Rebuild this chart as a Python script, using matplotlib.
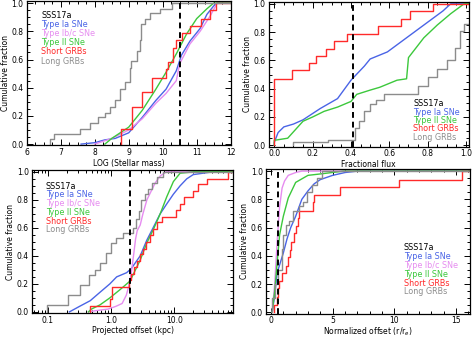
import matplotlib.pyplot as plt
from matplotlib.ticker import MultipleLocator, FixedLocator, LogLocator, NullFormatter

plt.rcParams['font.family'] = 'DejaVu Sans'

W, H = 474, 338

# colours for each class
c_ia = '#4a64e6'
c_ibc = '#e68cf0'
c_ii = '#3cc83c'
c_short = '#ff2a2a'
c_long = '#8c8c8c'

# --- host stellar mass (log M) ---
mass_ia_x = [7.6, 8.0, 8.3, 8.6, 9.0, 9.4, 9.8, 10.1, 10.4, 10.55, 10.8, 11.1, 11.3, 11.5, 11.6]
mass_ia_y = [0.0, 0.01, 0.03, 0.04, 0.08, 0.19, 0.31, 0.39, 0.52, 0.63, 0.73, 0.82, 0.92, 0.98, 1.0]
mass_ibc_x = [8.0, 8.5, 9.0, 9.4, 9.8, 10.1, 10.4, 10.5, 10.8, 11.1, 11.4, 11.6]
mass_ibc_y = [0.0, 0.04, 0.10, 0.18, 0.29, 0.36, 0.45, 0.57, 0.71, 0.80, 0.91, 1.0]
mass_ii_x = [8.3, 8.5, 9.0, 9.4, 9.8, 10.1, 10.4, 10.7, 11.0, 11.3, 11.5]
mass_ii_y = [0.0, 0.04, 0.12, 0.24, 0.39, 0.51, 0.64, 0.78, 0.89, 0.96, 1.0]
mass_short_x = [8.78, 9.11, 9.40, 9.70, 10.09, 10.15, 10.30, 10.40, 10.58, 10.79, 11.14, 11.38, 11.58]
mass_short_y = [0.11, 0.26, 0.37, 0.47, 0.53, 0.58, 0.68, 0.74, 0.79, 0.84, 0.89, 0.95, 1.0]
mass_long_x = [6.69, 6.81, 7.57, 7.86, 8.11, 8.30, 8.45, 8.59, 8.74, 8.88, 9.03, 9.08, 9.23,
               9.32, 9.37, 9.47, 9.62, 9.91, 10.26]
mass_long_y = [0.037, 0.074, 0.11, 0.15, 0.19, 0.22, 0.26, 0.31, 0.39, 0.44, 0.54, 0.59, 0.66,
               0.74, 0.85, 0.89, 0.93, 0.96, 1.0]
mass_sss17a = 10.5

# --- fractional flux ---
flux_ia_x = [0.0, 0.0, 0.02, 0.05, 0.1, 0.15, 0.24, 0.33, 0.40, 0.47, 0.50, 0.59, 0.67, 0.73,
             0.81, 0.88, 0.92]
flux_ia_y = [0.0, 0.02, 0.09, 0.13, 0.15, 0.18, 0.26, 0.33, 0.46, 0.56, 0.61, 0.66, 0.74, 0.80,
             0.88, 0.95, 1.0]
flux_ii_x = [0.0, 0.0, 0.07, 0.11, 0.15, 0.2, 0.26, 0.33, 0.40, 0.43, 0.50, 0.55, 0.64, 0.69,
             0.70, 0.78, 0.85, 0.92, 0.99]
flux_ii_y = [0.0, 0.035, 0.05, 0.11, 0.17, 0.20, 0.24, 0.27, 0.31, 0.36, 0.39, 0.41, 0.46, 0.47,
             0.62, 0.76, 0.85, 0.93, 1.0]
flux_short_x = [0.0, 0.09, 0.18, 0.22, 0.27, 0.31, 0.38, 0.54, 0.66, 0.71, 0.83]
flux_short_y = [0.47, 0.53, 0.58, 0.63, 0.68, 0.74, 0.79, 0.84, 0.89, 0.95, 1.0]
flux_long_x = [0.10, 0.28, 0.42, 0.44, 0.47, 0.50, 0.53, 0.57, 0.75, 0.80, 0.85, 0.90, 0.94,
               0.97, 0.99]
flux_long_y = [0.02, 0.04, 0.12, 0.17, 0.24, 0.29, 0.32, 0.36, 0.42, 0.48, 0.54, 0.60, 0.69,
               0.81, 0.86]
flux_sss17a = 0.41

# --- projected offset (kpc) ---
off_ia_x = [0.22, 0.32, 0.47, 0.67, 0.96, 1.23, 1.77, 2.1, 2.9, 3.67, 4.4, 6.0, 7.6, 9.7, 12.4,
            15.8, 20.0, 41.0]
off_ia_y = [0.0, 0.04, 0.08, 0.14, 0.20, 0.25, 0.28, 0.31, 0.40, 0.51, 0.58, 0.70, 0.77, 0.84,
            0.90, 0.95, 0.98, 1.0]
off_ibc_x = [0.44, 0.6, 0.9, 1.2, 1.5, 1.75, 1.9, 2.1, 2.3, 2.45, 2.6, 2.9, 3.2, 3.7, 4.3, 5.0,
             6.0, 7.5]
off_ibc_y = [0.0, 0.01, 0.02, 0.04, 0.06, 0.12, 0.18, 0.28, 0.42, 0.52, 0.58, 0.62, 0.70, 0.80,
             0.86, 0.92, 0.97, 1.0]
off_ii_x = [0.44, 0.49, 0.67, 0.96, 1.4, 2.0, 2.9, 3.67, 4.7, 6.0, 7.6, 9.7, 12.4, 21.0]
off_ii_y = [0.0, 0.02, 0.05, 0.10, 0.16, 0.22, 0.37, 0.49, 0.59, 0.70, 0.82, 0.93, 0.99, 1.0]
off_short_x = [0.46, 0.97, 1.05, 1.9, 2.05, 2.3, 2.6, 2.9, 3.2, 3.6, 4.1, 4.6, 5.3, 6.3, 10.8,
               12.5, 14.5, 20.0, 24.0, 33.0, 72.0]
off_short_y = [0.045, 0.09, 0.18, 0.23, 0.27, 0.32, 0.36, 0.41, 0.45, 0.50, 0.55, 0.59, 0.64,
               0.68, 0.73, 0.77, 0.82, 0.86, 0.91, 0.95, 1.0]
off_long_x = [0.096, 0.21, 0.32, 0.45, 0.56, 0.67, 0.82, 1.0, 1.2, 1.55, 2.25, 2.5, 2.75, 3.0,
              3.4, 3.9, 4.5, 5.3, 6.7]
off_long_y = [0.05, 0.12, 0.19, 0.26, 0.30, 0.35, 0.42, 0.49, 0.53, 0.56, 0.60, 0.66, 0.72, 0.80,
              0.84, 0.88, 0.92, 0.96, 1.0]
off_sss17a = 2.0

# --- host-normalized offset (r/r_e) ---
noff_ia_x = [0.1, 0.3, 0.5, 1.0, 1.3, 1.6, 2.0, 2.5, 3.0, 3.5, 4.0, 5.0, 6.0, 7.0]
noff_ia_y = [0.0, 0.12, 0.28, 0.42, 0.52, 0.60, 0.68, 0.80, 0.86, 0.91, 0.94, 0.97, 0.99, 1.0]
noff_ibc_x = [0.1, 0.3, 0.5, 0.7, 0.9, 1.1, 1.4, 2.0, 2.5]
noff_ibc_y = [0.0, 0.2, 0.5, 0.75, 0.88, 0.93, 0.97, 0.99, 1.0]
noff_ii_x = [0.1, 0.3, 0.5, 0.7, 1.0, 1.4, 2.0, 2.6, 3.0, 4.0, 5.9]
noff_ii_y = [0.0, 0.15, 0.35, 0.55, 0.68, 0.81, 0.92, 0.95, 0.97, 0.98, 1.0]
noff_short_x = [0.25, 0.45, 0.55, 0.62, 0.9, 1.2, 1.4, 1.55, 1.65, 1.9, 2.0, 2.2, 2.3, 3.4, 3.5,
                5.6, 10.4, 15.5]
noff_short_y = [0.05, 0.11, 0.17, 0.22, 0.28, 0.33, 0.39, 0.44, 0.50, 0.56, 0.61, 0.67, 0.72,
                0.78, 0.83, 0.89, 0.94, 1.0]
noff_long_x = [0.1, 0.3, 0.6, 0.9, 1.0, 1.2, 1.5, 1.8, 2.3, 2.6, 2.9, 3.3, 3.7, 4.1]
noff_long_y = [0.1, 0.2, 0.3, 0.45, 0.55, 0.62, 0.65, 0.72, 0.75, 0.78, 0.85, 0.9, 0.95, 1.0]
noff_sss17a = 0.6

legend_all = ['SSS17a', 'Type Ia SNe', 'Type Ib/c SNe', 'Type II SNe', 'Short GRBs', 'Long GRBs']
legend_cols = ['black', c_ia, c_ibc, c_ii, c_short, c_long]

FS = 5.5


def px_axes(left, top, right, bottom):
    return fig.add_axes([left / W, 1 - bottom / H, (right - left) / W, (bottom - top) / H])


def grb_steps(ax, xs, ys, color, xmax):
    ax.step([xs[0]] + xs + [xmax], [0] + ys + [ys[-1]], where='post', color=color, lw=1.0)


def sn_line(ax, xs, ys, color, xmax):
    ax.plot(xs + [xmax], ys + [ys[-1]], color=color, lw=1.0)


def style(ax, xlabel, xpad=1):
    ax.set_ylim(-0.01, 1.015)
    ax.yaxis.set_major_locator(MultipleLocator(0.2))
    ax.yaxis.set_minor_locator(MultipleLocator(0.05))
    ax.set_yticklabels([f'{v:.1f}' for v in ax.get_yticks()])
    ax.tick_params(which='both', direction='in', top=True, right=True, labelsize=FS, pad=2.5,
                   width=0.7)
    ax.tick_params(axis='x', pad=2)
    ax.tick_params(which='major', length=4)
    ax.tick_params(which='minor', length=2)
    ax.set_ylabel('Cumulative fraction', fontsize=FS, labelpad=1)
    ax.set_xlabel(xlabel, fontsize=FS, labelpad=xpad)
    for s in ax.spines.values():
        s.set_linewidth(0.9)


def legend(x, y, labels, cols, step=8.8):
    for i, (lab, col) in enumerate(zip(labels, cols)):
        fig.text(x / W, 1 - (y + i * step) / H, lab, color=col, fontsize=5.8, va='center')


fig = plt.figure(figsize=(W / 100, H / 100), dpi=100)

# stellar mass
ax1 = px_axes(26.7, 1, 230.7, 145.5)
sn_line(ax1, mass_ia_x, mass_ia_y, c_ia, 12)
sn_line(ax1, mass_ibc_x, mass_ibc_y, c_ibc, 12)
sn_line(ax1, mass_ii_x, mass_ii_y, c_ii, 12)
grb_steps(ax1, mass_short_x, mass_short_y, c_short, 12)
grb_steps(ax1, mass_long_x, mass_long_y, c_long, 12)
ax1.axvline(mass_sss17a, color='black', ls=(0, (3, 2)), lw=1.4)
ax1.set_xlim(6, 12)
ax1.xaxis.set_major_locator(MultipleLocator(1))
ax1.xaxis.set_minor_locator(MultipleLocator(0.25))
style(ax1, 'LOG (Stellar mass)')
legend(41, 15, legend_all, legend_cols, 9.2)

# fractional flux
ax2 = px_axes(268.7, 1.7, 468.7, 146.7)
sn_line(ax2, flux_ia_x, flux_ia_y, c_ia, 1.1)
sn_line(ax2, flux_ii_x, flux_ii_y, c_ii, 1.1)
grb_steps(ax2, flux_short_x, flux_short_y, c_short, 1.1)
grb_steps(ax2, flux_long_x, flux_long_y, c_long, 1.1)
ax2.axvline(flux_sss17a, color='black', ls=(0, (3, 2)), lw=1.4)
ax2.set_xlim(-0.029, 1.014)
ax2.xaxis.set_major_locator(MultipleLocator(0.2))
ax2.xaxis.set_minor_locator(MultipleLocator(0.05))
ax2.set_xticklabels([f'{v:.1f}' for v in ax2.get_xticks()])
style(ax2, 'Fractional flux')
legend(413, 104, [legend_all[i] for i in (0, 1, 3, 4, 5)],
       [legend_cols[i] for i in (0, 1, 3, 4, 5)], 8.3)

# projected offset
ax3 = px_axes(32.3, 169.7, 233.3, 313.3)
ax3.set_xscale('log')
sn_line(ax3, off_ia_x, off_ia_y, c_ia, 100)
sn_line(ax3, off_ibc_x, off_ibc_y, c_ibc, 100)
sn_line(ax3, off_ii_x, off_ii_y, c_ii, 100)
grb_steps(ax3, off_short_x, off_short_y, c_short, 100)
grb_steps(ax3, off_long_x, off_long_y, c_long, 100)
ax3.axvline(off_sss17a, color='black', ls=(0, (3, 2)), lw=1.4)
ax3.set_xlim(0.057, 86)
ax3.xaxis.set_major_locator(FixedLocator([0.1, 1.0, 10.0]))
ax3.xaxis.set_minor_locator(LogLocator(subs=range(2, 10)))
ax3.xaxis.set_minor_formatter(NullFormatter())
ax3.set_xticklabels(['0.1', '1.0', '10.0'])
style(ax3, 'Projected offset (kpc)', 0.5)
legend(45.7, 186.3, legend_all, legend_cols, 8.7)

# normalized offset
ax4 = px_axes(266.3, 169, 470.3, 313.7)
sn_line(ax4, noff_ia_x, noff_ia_y, c_ia, 17)
sn_line(ax4, noff_ibc_x, noff_ibc_y, c_ibc, 17)
sn_line(ax4, noff_ii_x, noff_ii_y, c_ii, 17)
grb_steps(ax4, noff_short_x, noff_short_y, c_short, 17)
grb_steps(ax4, noff_long_x, noff_long_y, c_long, 17)
ax4.axvline(noff_sss17a, color='black', ls=(0, (3, 2)), lw=1.4)
ax4.set_xlim(-0.38, 16.16)
ax4.xaxis.set_major_locator(MultipleLocator(5))
ax4.xaxis.set_minor_locator(MultipleLocator(1))
style(ax4, 'Normalized offset (r/r$_e$)', 0)
legend(403.7, 248, legend_all, legend_cols, 8.8)

fig.savefig('out.png', dpi=100)
